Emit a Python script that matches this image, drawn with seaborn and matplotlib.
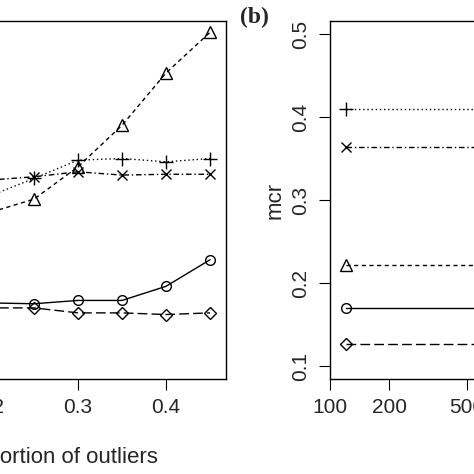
import matplotlib
matplotlib.use("Agg")
import matplotlib.pyplot as plt
import seaborn as sns
import numpy as np

sns.set_style("ticks")
plt.rcParams['font.family'] = ['Liberation Sans', 'DejaVu Sans']

# Panel (a)
prop = [0.20, 0.25, 0.30, 0.35, 0.40, 0.45]
tri_a = [0.285, 0.301, 0.340, 0.390, 0.453, 0.502]
plus_a = [0.305, 0.326, 0.348, 0.350, 0.346, 0.350]
x_a = [0.324, 0.328, 0.334, 0.330, 0.331, 0.331]
circ_a = [0.176, 0.175, 0.179, 0.179, 0.196, 0.228]
diam_a = [0.170, 0.170, 0.164, 0.164, 0.162, 0.164]

# Panel (b)
n_b = [120, 600, 1200]
tri_b = [0.222, 0.222, 0.222]
plus_b = [0.410, 0.410, 0.410]
x_b = [0.364, 0.364, 0.364]
circ_b = [0.170, 0.170, 0.170]
diam_b = [0.126, 0.126, 0.126]

W = H = 474
fig = plt.figure(figsize=(4.74, 4.74), dpi=100)
top, bot = 21, 379
ylim = (0.5 - (bot - 34) / 830, 0.5 + 13 / 830)

def ax_at(l, r):
    return fig.add_axes([l / W, 1 - bot / H, (r - l) / W, (bot - top) / H])

styles = [  # (marker, dashes, size)
    ('^', (3, 2.5), 8),
    ('+', (1, 2), 10),
    ('x', (4, 2, 1, 2), 7),
    ('o', (), 7),
    ('D', (7, 3), 6),
]

def draw(ax, x, series):
    for y, (m, d, s) in zip(series, styles):
        sns.lineplot(x=x, y=y, ax=ax, color='black', lw=1, marker=m, ms=s,
                     mfc='none', mec='black', mew=1, dashes=False)
        if d:
            ax.lines[-1].set_dashes(d)
    ax.set_ylim(*ylim)
    for sp in ax.spines.values():
        sp.set_visible(True); sp.set_color('black'); sp.set_linewidth(1)
    ax.tick_params(direction='out', length=8, labelsize=15, color='black', pad=6)

axa = ax_at(-150, 226)
draw(axa, prop, [tri_a, plus_a, x_a, circ_a, diam_a])
axa.set_xlim(0.3 - 228 / 880, 0.3 + 148 / 880)
axa.set_xticks([0.1, 0.2, 0.3, 0.4])
axa.set_xticklabels(['0.1', '0.2', '0.3', '0.4'])
axa.set_xlabel('')
fig.text(158 / W, 1 - 458 / H, 'Proportion of outliers', ha='right', va='center', fontsize=16)

axb = ax_at(330, 740)
draw(axb, n_b, [tri_b, plus_b, x_b, circ_b, diam_b])
axb.set_xscale('log')
axb.set_xlim(100, 10 ** (2 + 410 / 196))
axb.set_xticks([100, 200, 500, 1000])
axb.set_xticklabels(['100', '200', '500', '1000'])
axb.minorticks_off()
axb.set_yticks([0.1, 0.2, 0.3, 0.4, 0.5])
axb.set_yticklabels(['0.1', '0.2', '0.3', '0.4', '0.5'], rotation=90, va='center')
axb.set_ylabel('mcr', fontsize=16, labelpad=4)
fig.text(240 / W, 1 - 17 / H, '(b)', fontsize=17, fontweight='bold',
         family='Liberation Serif', va='center')

fig.savefig('out.png', dpi=100)
